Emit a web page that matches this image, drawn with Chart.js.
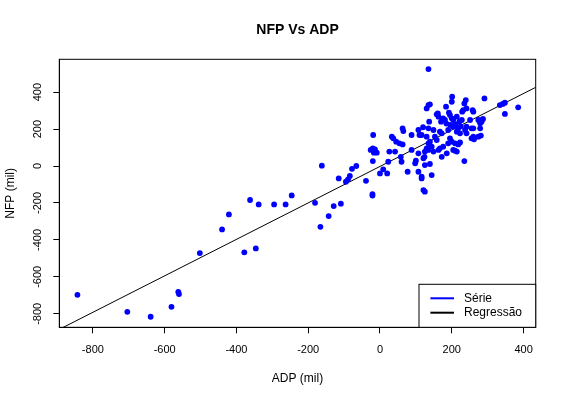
<!DOCTYPE html>
<html>
<head>
<meta charset="utf-8">
<script src="https://cdn.jsdelivr.net/npm/chart.js@4/dist/chart.umd.min.js"></script>
<style>
  html, body { margin: 0; padding: 0; background: #fff; }
  #wrap { width: 567px; height: 402px; position: relative; }
</style>
</head>
<body>
<div id="wrap"><canvas id="chart"></canvas></div>
<script>
// ADP vs NFP monthly changes (thousands)
const adpValues = [
  -843, -704, -639, -581, -562, -560, -502, -440, -421, -378, -346, -362, -338, -295, -263, -246,
  -181, -162, -166, -143, -129, -109, -115, -95, -89, -84, -78, -66,
  -39, -19, -20, -14, -26, -17, -9, -20, -21, -21, 0, 9, 20, 23, 26, 42, 33, 37, 45, 54, 63, 63,
  65, 58, 60, 77, 88, 88, 98, 100, 107, 110, 107, 116, 121, 107, 124, 125, 130, 135, 137, 135,
  130, 135, 130, 135, 135, 139, 201, 200, 184, 239, 235, 260, 229, 232, 291, 161, 163, 192, 195, 274,
  279, 255, 255, 260, 274, 237, 241, 235, 139, 144, 125, 158, 200, 204, 176, 181, 214, 221, 228, 241,
  258, 251, 283, 260, 262, 241, 218, 223, 204, 190, 167, 172, 149, 120, 116, 153, 158, 139, 144, 125,
  167, 176, 195, 200, 190, 209, 218, 223, 204, 214, 172, 149, 163, 121, 116, 185, 170, 210, 225, 196,
  214, 186, 209, 334, 342, 348, 348, 385, 287, 283, 279, 281
];
const nfpValues = [
  -697, -789, -816, -762, -682, -693, -471, -343, -262, -467, -446, -184, -208, -208, -208, -159,
  -199, 2, -329, -271, -217, -204, -67, -85, -72, -54, -15, 0,
  -80, 168, 96, 90, 87, 72, 72, 27, -152, -160, -40, -18, -40, 23, 78, 78, 159, 150, 132, 123, 117, 204,
  189, 50, 23, -31, 87, 168, 15, 29, 195, 168, -31, -67, -130, 69, 50, 5, 312, 330, 240, 204,
  159, 123, 96, 87, 525, 334, 375, 348, 321, 357, 339, 294, 294, 303, 366, 285, 267, 289, 276, 249,
  204, 204, 150, 159, 159, 195, 177, 27, 11, -49, -139, 280, 258, 249, 258, 249, 267, 240, 249, 312,
  303, 249, 249, 204, 145, 213, 204, 177, 213, 195, 186, 177, 195, 210, 168, 159, 141, 132, 105, 78,
  96, 105, 150, 132, 123, 123, 117, 128, 87, 78, 50, 78, 87, 42, -58, 230, 240, 225, 215, 222,
  186, 69, 83, 330, 336, 343, 282, 318, 255, 240, 231, 165
];

// fitted line NFP = a + b * ADP
const regIntercept = -2.2;
const regSlope = 0.987;

const xTicks = [-800, -600, -400, -200, 0, 200, 400];
const yTicks = [-800, -600, -400, -200, 0, 200, 400];
const xLimits = [-893.5, 433.8];
const yLimits = [-873, 577.7];

const chartTitle = 'NFP Vs ADP';
const xLabel = 'ADP (mil)';
const yLabel = 'NFP (mil)';
const seriesLabels = ['Série', 'Regressão'];

const FONT = "'Liberation Sans', Arial, sans-serif";

const points = adpValues.map((x, i) => ({ x: x, y: nfpValues[i] }));
const regLine = xLimits.map(x => ({ x: x, y: regIntercept + regSlope * x }));

// R-style extras: full box, centred main title, boxed legend bottom-right
const rStyle = {
  id: 'rStyle',
  afterDraw(chart) {
    const ctx = chart.ctx;
    const a = chart.chartArea;
    ctx.save();
    ctx.strokeStyle = '#000';
    ctx.lineWidth = 1;
    ctx.strokeRect(a.left, a.top, a.right - a.left, a.bottom - a.top);

    ctx.fillStyle = '#000';
    ctx.font = 'bold 14px ' + FONT;
    ctx.textAlign = 'center';
    ctx.textBaseline = 'middle';
    ctx.fillText(chartTitle, (a.left + a.right) / 2, 30);

    // legend
    const w = 116.7, h = 43;
    const lx = a.right - w, ly = a.bottom - h;
    ctx.fillStyle = '#fff';
    ctx.fillRect(lx, ly, w, h);
    ctx.strokeRect(lx, ly, w, h);
    const rows = chart.data.datasets;
    ctx.font = '12px ' + FONT;
    ctx.textAlign = 'left';
    rows.forEach((ds, i) => {
      const y = ly + 14 + i * 14.4;
      ctx.strokeStyle = ds.legendColor;
      ctx.lineWidth = 2;
      ctx.beginPath();
      ctx.moveTo(lx + 11.4, y);
      ctx.lineTo(lx + 35, y);
      ctx.stroke();
      ctx.fillStyle = '#000';
      ctx.fillText(ds.label, lx + 45, y);
    });
    ctx.restore();
  }
};

new Chart(document.getElementById('chart'), {
  type: 'scatter',
  data: {
    datasets: [
      {
        label: seriesLabels[0],
        data: points,
        backgroundColor: '#0000FF',
        borderWidth: 0,
        pointRadius: 2.9,
        pointHoverRadius: 2.9,
        legendColor: '#0000FF'
      },
      {
        label: seriesLabels[1],
        data: regLine,
        showLine: true,
        borderColor: '#000',
        borderWidth: 1,
        pointRadius: 0,
        legendColor: '#000'
      }
    ]
  },
  options: {
    responsive: true,
    maintainAspectRatio: false,
    animation: false,
    layout: { padding: { top: 59.3, right: 31.3, left: 0, bottom: 0 } },
    plugins: {
      legend: { display: false },
      title: { display: false },
      tooltip: { enabled: false }
    },
    scales: {
      x: {
        type: 'linear',
        min: xLimits[0],
        max: xLimits[1],
        afterBuildTicks: s => { s.ticks = xTicks.map(v => ({ value: v })); },
        afterFit: s => { s.height = 74.7; },
        grid: { drawOnChartArea: false, drawTicks: true, tickLength: 6, tickColor: '#000' },
        border: { display: true, color: '#000' },
        ticks: { color: '#000', font: { family: FONT, size: 11 }, padding: 10, maxRotation: 0 },
        title: { display: true, text: xLabel, color: '#000', font: { family: FONT, size: 12 }, padding: { top: 0, bottom: 15.8 } }
      },
      y: {
        type: 'linear',
        min: yLimits[0],
        max: yLimits[1],
        afterBuildTicks: s => { s.ticks = yTicks.map(v => ({ value: v })); },
        afterFit: s => { s.width = 59.3; },
        grid: { drawOnChartArea: false, drawTicks: true, tickLength: 6, tickColor: '#000' },
        border: { display: true, color: '#000' },
        ticks: { color: '#000', font: { family: FONT, size: 11 }, padding: 4, minRotation: 90, maxRotation: 90, crossAlign: 'center' },
        title: { display: true, text: yLabel, color: '#000', font: { family: FONT, size: 12 }, padding: { top: 3.5, bottom: 0 } }
      }
    }
  },
  plugins: [rStyle]
});
</script>
</body>
</html>
